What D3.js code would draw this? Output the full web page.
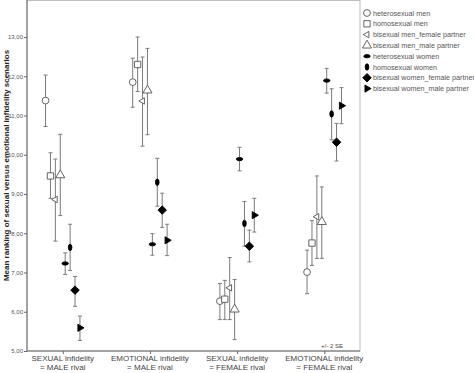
<!DOCTYPE html>
<html>
<head>
<meta charset="utf-8">
<script src="https://cdn.jsdelivr.net/npm/d3@7"></script>
<style>
  body { margin: 0; background: #fff; }
  svg { display: block; font-family: "Liberation Sans", Arial, sans-serif; }
</style>
</head>
<body>
<script>
// categories on the x axis (two lines each)
const groups = ["SM", "EM", "SF", "EF"];
const groupLabels = [
  ["SEXUAL infidelity", "= MALE rival"],
  ["EMOTIONAL infidelity", "= MALE rival"],
  ["SEXUAL infidelity", "= FEMALE rival"],
  ["EMOTIONAL infidelity", "= FEMALE rival"]
];

// series (legend order)
const seriesNames = [
  "heterosexual men", "homosexual men", "bisexual men_female partner", "bisexual men_male partner",
  "heterosexual women", "homosexual women", "bisexual women_female partner", "bisexual women_male partner"
];
const seriesShapes = ["circle", "square", "triLeft", "triUp", "ellipseH", "ellipseV", "diamond", "triRight"];

// means, one row per series, one value per group
const means = [
  [11.38, 11.85, 6.27, 7.01],
  [9.46, 12.30, 6.32, 7.75],
  [8.86, 11.37, 6.61, 8.42],
  [9.48, 11.64, 6.06, 8.29],
  [7.23, 7.72, 9.89, 11.89],
  [7.64, 9.30, 8.25, 11.04],
  [6.55, 8.59, 7.67, 10.32],
  [5.59, 7.82, 8.46, 11.25]
];
// lower / upper ends of the +/- 2 SE bars
const lower = [
  [10.72, 11.21, 5.80, 6.46],
  [8.89, 11.61, 5.80, 7.18],
  [7.80, 10.22, 5.80, 7.36],
  [8.45, 10.51, 5.29, 7.36],
  [6.95, 7.44, 9.59, 11.57],
  [7.05, 8.69, 7.67, 10.38],
  [6.14, 8.15, 7.27, 9.84],
  [5.27, 7.43, 8.03, 10.79]
];
const upper = [
  [12.03, 12.46, 6.72, 7.57],
  [10.05, 13.00, 6.80, 8.32],
  [9.89, 12.49, 7.38, 9.46],
  [10.52, 12.71, 6.82, 9.18],
  [7.50, 7.99, 10.19, 12.20],
  [8.23, 9.91, 8.81, 11.68],
  [6.90, 9.02, 8.08, 10.80],
  [5.89, 8.23, 8.89, 11.71]
];
const yTicks = [5, 6, 7, 8, 9, 10, 11, 12, 13];

const W = 474, H = 373;
const plot = { left: 27, right: 360, top: 0, bottom: 351 };

const svg = d3.select("body").append("svg")
  .attr("width", W).attr("height", H);

const x = d3.scalePoint().domain(groups)
  .range([plot.left, plot.right]).padding(0.41);
const offset = d3.scalePoint().domain(seriesNames).range([-17.2, 17.2]);
const y = d3.scaleLinear().domain([5, 13]).range([plot.bottom, 37]);

// frame
svg.append("rect")
  .attr("x", plot.left).attr("y", plot.top + 0.5)
  .attr("width", plot.right - plot.left).attr("height", plot.bottom - plot.top - 0.5)
  .attr("fill", "none").attr("stroke", "#bdbdbd");

// y axis
const yAxis = svg.append("g")
  .attr("transform", `translate(${plot.left},0)`)
  .call(d3.axisLeft(y).tickValues(yTicks).tickSize(3).tickPadding(1)
    .tickFormat(d => d3.format(".2f")(d).replace(".", ",")));
yAxis.select(".domain").attr("stroke", "#666").attr("d", `M0,${plot.top}V${plot.bottom}`);
yAxis.selectAll(".tick line").attr("stroke", "#666");
yAxis.selectAll("text").attr("font-size", 6).attr("fill", "#555")
  .attr("font-family", "Liberation Sans, Arial, sans-serif");

// x axis
const xAxis = svg.append("g")
  .attr("transform", `translate(0,${plot.bottom})`)
  .call(d3.axisBottom(x).tickSize(3).tickFormat(""));
xAxis.select(".domain").attr("stroke", "#666").attr("d", `M${plot.left},0H${plot.right}`);
xAxis.selectAll(".tick line").attr("stroke", "#666");
groups.forEach((g, i) => {
  const t = svg.append("text")
    .attr("x", x(g)).attr("y", plot.bottom + 10)
    .attr("text-anchor", "middle").attr("font-size", 8).attr("fill", "#444");
  groupLabels[i].forEach((line, k) => {
    t.append("tspan").attr("x", x(g)).attr("dy", k ? 9 : 0).text(line);
  });
});

// y axis title
svg.append("text")
  .attr("transform", `translate(9,${(plot.top + plot.bottom) / 2 - 10}) rotate(-90)`)
  .attr("text-anchor", "middle").attr("font-size", 8).attr("font-weight", "bold")
  .attr("fill", "#222")
  .text("Mean ranking of sexual versus emotional infidelity scenarios");

// "+/- 2 SE"
svg.append("text")
  .attr("x", 332).attr("y", 348).attr("text-anchor", "middle")
  .attr("font-size", 6).attr("fill", "#444").text("+/- 2 SE");

// marker drawing
function drawMarker(sel, shape, cx, cy) {
  const open = ["circle", "square", "triLeft", "triUp"].includes(shape);
  const fill = open ? "#fff" : "#000";
  const stroke = open ? "#555" : "#000";
  let m;
  if (shape === "circle") {
    m = sel.append("circle").attr("cx", cx).attr("cy", cy).attr("r", 3.4);
  } else if (shape === "ellipseH") {
    m = sel.append("ellipse").attr("cx", cx).attr("cy", cy).attr("rx", 3.2).attr("ry", 1.6);
  } else if (shape === "ellipseV") {
    m = sel.append("ellipse").attr("cx", cx).attr("cy", cy).attr("rx", 1.8).attr("ry", 3.2);
  } else {
    const type = {
      square: d3.symbolSquare, triLeft: d3.symbolTriangle, triUp: d3.symbolTriangle,
      diamond: d3.symbolSquare, triRight: d3.symbolTriangle
    }[shape];
    const size = { square: 40, triLeft: 18, triUp: 36, diamond: 36, triRight: 22 }[shape];
    const rot = { triLeft: -90, triRight: 90, diamond: 45 }[shape] || 0;
    m = sel.append("path")
      .attr("d", d3.symbol().type(type).size(size)())
      .attr("transform", `translate(${cx},${cy}) rotate(${rot})`);
  }
  m.attr("fill", fill).attr("stroke", stroke).attr("stroke-width", 0.9);
}

// error bars and markers
const marks = svg.append("g");
seriesNames.forEach((s, si) => {
  groups.forEach((g, gi) => {
    const cx = x(g) + offset(s);
    const eb = marks.append("g").attr("stroke", "#7a7a7a").attr("stroke-width", 1);
    eb.append("line").attr("x1", cx).attr("x2", cx)
      .attr("y1", y(lower[si][gi])).attr("y2", y(upper[si][gi]));
    [lower[si][gi], upper[si][gi]].forEach(v => {
      eb.append("line").attr("x1", cx - 2).attr("x2", cx + 2)
        .attr("y1", y(v)).attr("y2", y(v));
    });
  });
});
seriesNames.forEach((s, si) => {
  groups.forEach((g, gi) => {
    drawMarker(marks, seriesShapes[si], x(g) + offset(s), y(means[si][gi]));
  });
});

// legend
const legend = svg.append("g").attr("transform", "translate(367,13)");
seriesNames.forEach((s, i) => {
  const row = legend.append("g").attr("transform", `translate(0,${i * 10.8})`);
  drawMarker(row, seriesShapes[i], 0, 0);
  row.append("text").attr("x", 6).attr("y", 2.5)
    .attr("font-size", 7.2).attr("fill", "#555").text(s);
});
</script>
</body>
</html>
